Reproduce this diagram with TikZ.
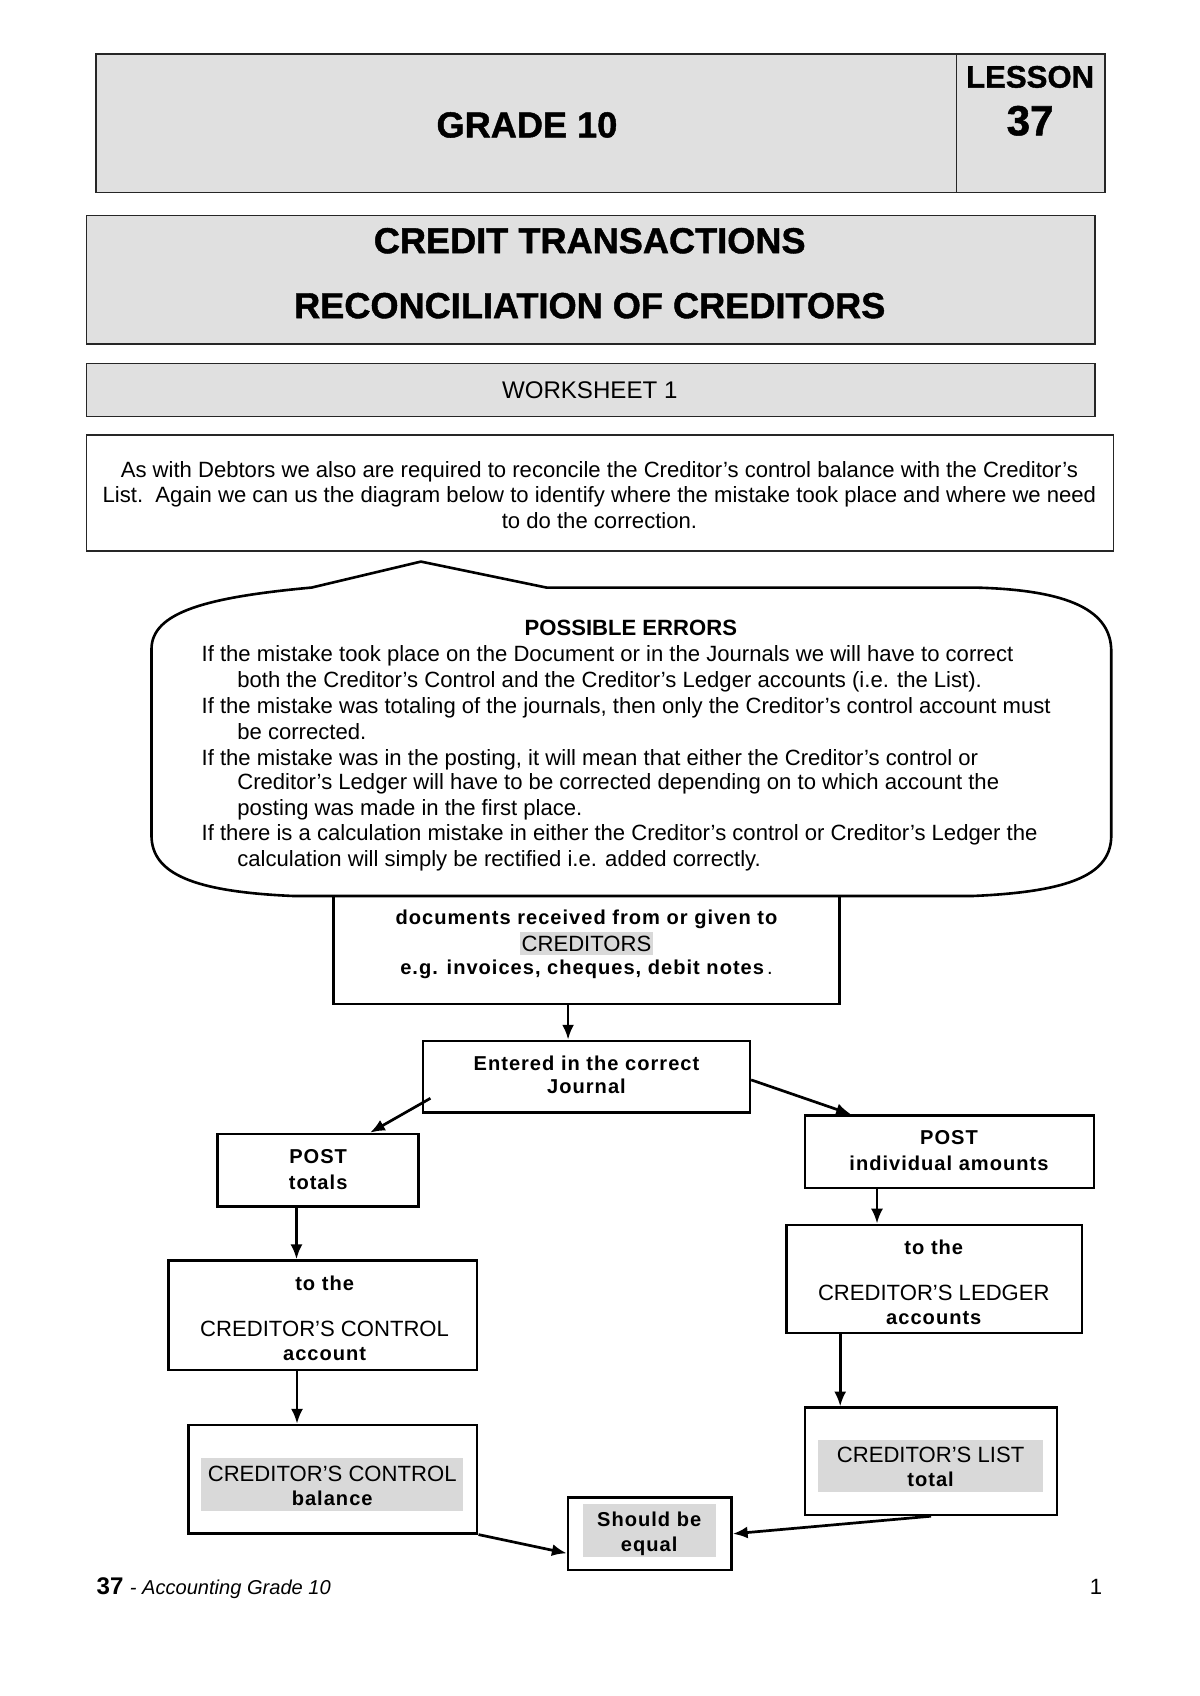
\documentclass[tikz,border=0pt]{standalone}
\usepackage{fontspec}
\setmainfont{Liberation Sans}
\newfontfamily\spfam[LetterSpace=5]{Liberation Sans}
\newfontfamily\heavy[BoldFeatures={FakeBold=1.2}]{Liberation Sans}
\usetikzlibrary{fit,arrows.meta}
\definecolor{hdrgray}{HTML}{E0E0E0}
\definecolor{hlgray}{HTML}{D9D9D9}
\begin{document}
\begin{tikzpicture}[x=0.18936mm, y=-0.18936mm,
  bx/.style={draw=black, line width=1.3pt, inner sep=0pt},
  hdrbox/.style={draw=black!85, line width=0.8pt, fill=hdrgray, inner sep=0pt},
  hlbox/.style={fill=hlgray, inner sep=0pt},
  arr/.style={line width=1.35pt, -{Latex[length=2.6mm,width=2.1mm]}},
  bt/.style={font=\spfam\bfseries\fontsize{10}{12}\selectfont, inner sep=0pt, anchor=base, yshift=-0.38mm},
  ct/.style={font=\fontsize{11}{13}\selectfont, inner sep=0pt, anchor=base, yshift=-0.38mm},
  ln/.style={font=\fontsize{11}{13}\selectfont, inner sep=0pt, anchor=base west, yshift=-0.38mm},
  big/.style={font=\heavy\bfseries\fontsize{18}{22}\selectfont, inner sep=0pt, anchor=base}
]
\useasboundingbox (0,0) rectangle (1109,1567.4);

% header boxes
\node[hdrbox, fit={(89,50) (1021,178)}] (top) {};
\draw[line width=0.8pt, black!85] (884,50) -- (884,178);
\node[big] (grade) at (487,127) {GRADE 10};
\node[font=\heavy\bfseries\fontsize{15.5}{18}\selectfont, inner sep=0pt, anchor=base] (lesson) at (952,81) {LESSON};
\node[font=\heavy\bfseries\fontsize{21}{24}\selectfont, inner sep=0pt, anchor=base] (lnum) at (952,125) {37};

\node[hdrbox, fit={(80,199) (1012,318)}] (title) {};
\node[big] (t1) at (545,234) {CREDIT TRANSACTIONS};
\node[big] (t2) at (545,294) {RECONCILIATION OF CREDITORS};

\node[hdrbox, fit={(80,336) (1012,385)}] (ws) {};
\node[font=\fontsize{12}{14}\selectfont, inner sep=0pt, anchor=base] (wst) at (545,368) {WORKSHEET 1};

\node[draw=black!85, line width=0.8pt, inner sep=0pt, fit={(80,402) (1029,509)}] (intro) {};
\node[ct] (i1) at (554,439) {As with Debtors we also are required to reconcile the Creditor’s control balance with the Creditor’s};
\node[ct] (i2) at (554,462) {List.\ \ Again we can us the diagram below to identify where the mistake took place and where we need};
\node[ct] (i3) at (554,486) {to do the correction.};

% document box (drawn before the cloud so the cloud covers its top)
\node[bx, fit={(308,820) (776,928)}] (doc) {};

% cloud callout
\draw[line width=1.3pt, fill=white]
  (288,543) -- (389,519) -- (505,543) -- (900,543)
  .. controls (990,545) and (1027,565) .. (1027,602)
  -- (1027,772)
  .. controls (1027,808) and (990,824) .. (900,828)
  -- (270,828)
  .. controls (180,824) and (140,808) .. (140,772)
  -- (140,600)
  .. controls (140,566) and (190,552) .. (288,543) -- cycle;

\node[font=\bfseries\fontsize{11}{13}\selectfont, inner sep=0pt, anchor=base, yshift=-0.38mm] (pe) at (583,585) {POSSIBLE ERRORS};
\node[ln] (c1) at (186,609) {If the mistake took place on the Document or in the Journals we will have to correct};
\node[ln] (c2) at (219,633) {both the Creditor’s Control and the Creditor’s Ledger accounts (i.e. the List).};
\node[ln] (c3) at (186,657) {If the mistake was totaling of the journals, then only the Creditor’s control account must};
\node[ln] (c4) at (219,681) {be corrected.};
\node[ln] (c5) at (186,705) {If the mistake was in the posting, it will mean that either the Creditor’s control or};
\node[ln] (c6) at (219,728) {Creditor’s Ledger will have to be corrected depending on to which account the};
\node[ln] (c7) at (219,752) {posting was made in the first place.};
\node[ln] (c8) at (186,775) {If there is a calculation mistake in either the Creditor’s control or Creditor’s Ledger the};
\node[ln] (c9) at (219,799) {calculation will simply be rectified i.e. added correctly.};

% document box text
\node[bt] (d1) at (542,852) {documents received from or given to};
\node[ct, fill=hlgray, inner xsep=1pt, inner ysep=2pt] (d2) at (542,877) {CREDITORS};
\node[bt] (d3) at (542,899) {e.g. invoices, cheques, debit notes{\normalfont\fontsize{10}{12}\selectfont\hspace{1.5pt}.}};

% journal
\node[bx, fit={(391,962) (693,1028)}] (jour) {};
\node[bt] (j1) at (542,987) {Entered in the correct};
\node[bt] (j2) at (542,1009) {Journal};

% post totals
\node[bx, fit={(201,1048) (387,1115)}] (ptot) {};
\node[bt] (p1) at (294,1073) {POST};
\node[bt] (p2) at (294,1097) {totals};

% post individual
\node[bx, fit={(744,1031) (1011,1098)}] (pind) {};
\node[bt] (q1) at (877,1056) {POST};
\node[bt] (q2) at (877,1080) {individual amounts};

% creditor's control account
\node[bx, fit={(156,1165) (441,1266)}] (ctrl) {};
\node[bt] (k1) at (300,1191) {to the};
\node[ct] (k2) at (300,1233) {CREDITOR’S CONTROL};
\node[bt] (k3) at (300,1255) {account};

% creditor's ledger
\node[bx, fit={(727,1132) (1000,1232)}] (ledg) {};
\node[bt] (g1) at (863,1157) {to the};
\node[ct] (g2) at (863,1200) {CREDITOR’S LEDGER};
\node[bt] (g3) at (863,1222) {accounts};

% control balance
\node[bx, fit={(174,1317) (441,1417)}] (cbal) {};
\node[hlbox, fit={(186,1347) (428,1396)}] (cbalhl) {};
\node[ct] (b1) at (307,1367) {CREDITOR’S CONTROL};
\node[bt] (b2) at (307,1389) {balance};

% creditor's list
\node[bx, fit={(744,1301) (977,1400)}] (list) {};
\node[hlbox, fit={(756,1331) (964,1379)}] (listhl) {};
\node[ct] (s1) at (860,1350) {CREDITOR’S LIST};
\node[bt] (s2) at (860,1372) {total};

% should be equal
\node[bx, fit={(525,1384) (676,1451)}] (eq) {};
\node[hlbox, fit={(539,1390) (662,1439)}] (eqhl) {};
\node[bt] (e1) at (600,1409) {Should be};
\node[bt] (e2) at (600,1432) {equal};

% connectors
\draw[arr] ([shift={(-17,0)}]doc.south) -- ([shift={(-17,0)}]doc.south |- jour.north);
\draw[arr] ([shift={(8,20)}]jour.west) -- ([shift={(48,0)}]ptot.north);
\draw[arr] ([shift={(0,3)}]jour.east) -- ([shift={(-91,0)}]pind.north);
\draw[arr] ([shift={(-20,0)}]ptot.south) -- ([shift={(-20,0)}]ptot.south |- ctrl.north);
\draw[arr] ([shift={(-67,0)}]pind.south) -- ([shift={(-67,0)}]pind.south |- ledg.north);
\draw[arr] ([shift={(-24,0)}]ctrl.south) -- ([shift={(-24,0)}]ctrl.south |- cbal.north);
\draw[arr] ([shift={(-87,0)}]ledg.south) -- ([shift={(-87,0)}]ledg.south |- list.north);
\draw[arr] (cbal.south east) -- ([shift={(0,18)}]eq.west);
\draw[arr] (list.south) -- (eq.east);

% footer
\node[font=\bfseries\fontsize{12}{14}\selectfont, inner sep=0pt, anchor=base west] (f1) at (89,1474) {37};
\node[font=\itshape\fontsize{10}{12}\selectfont, inner sep=0pt, anchor=base west] (f2) at (f1.base east) {\ - Accounting Grade 10};
\node[font=\fontsize{11}{13}\selectfont, inner sep=0pt, anchor=base] (f3) at (1013,1474) {1};
\end{tikzpicture}
\end{document}
